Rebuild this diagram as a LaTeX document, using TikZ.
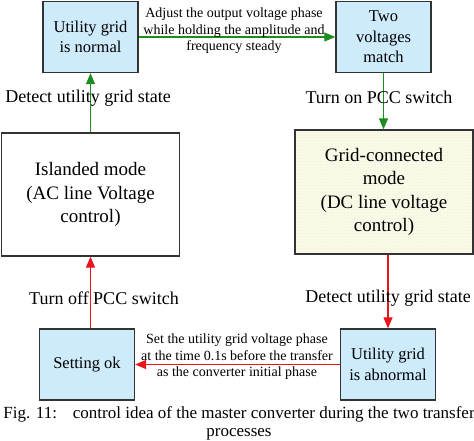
\documentclass[tikz,border=0pt]{standalone}
\usepackage{fontspec}
\setmainfont{Liberation Serif}
\usetikzlibrary{arrows.meta,patterns}
\definecolor{boxblue}{HTML}{CDEBFA}
\definecolor{boxyel}{HTML}{FBFAE6}
\definecolor{arrgreen}{HTML}{1E8C1E}
\definecolor{arrred}{HTML}{E8141E}
\definecolor{edge}{HTML}{333333}
\tikzset{
  smallbox/.style={draw=edge, line width=1.3pt, fill=boxblue, minimum width=95pt, minimum height=71pt, inner sep=0pt, align=center, font=\fontsize{16.5}{20.5}\selectfont},
  bigbox/.style={draw=edge, line width=1.3pt, minimum width=178pt, minimum height=123pt, inner sep=0pt, align=center, font=\fontsize{19}{23.5}\selectfont},
  edgelabel/.style={inner sep=0pt, align=center, font=\fontsize{14}{16.5}\selectfont},
  sidelabel/.style={inner sep=0pt, font=\fontsize{18}{20}\selectfont},
  garrow/.style={draw=arrgreen, line width=1.2pt, -{Triangle[length=11pt,width=9pt]}},
  rarrow/.style={draw=arrred, line width=1.2pt, -{Triangle[length=11pt,width=9pt]}},
}
\begin{document}
\begin{tikzpicture}[x=1pt,y=-1pt]
\useasboundingbox (0,0) rectangle (474,441);
\node[smallbox] (ugn) at (90.5,37) {Utility grid\\is normal};
\node[smallbox] (tvm) at (383.5,37) {Two\\voltages\\match};
\node[bigbox] (isl) at (90.5,194.5) {Islanded mode\\(AC line Voltage\\control)};
\node[bigbox, minimum height=124pt, preaction={fill=boxyel}, pattern=dots, pattern color=gray!22] (grid) at (384,192) {};
\node[align=center, font=\fontsize{19}{23.5}\selectfont, inner sep=0pt] (gridtext) at (grid.center) {Grid-connected\\mode\\(DC line voltage\\control)};
\node[smallbox] (set) at (87,364.5) {Setting ok};
\node[smallbox] (uga) at (388,364.5) {Utility grid\\is abnormal};

\draw[garrow] (ugn.east) -- (tvm.west);
\node[edgelabel] (l1) at (234,31) {Adjust the output voltage phase\\while holding the amplitude and\\frequency steady};
\draw[garrow] (isl.north) -- (isl.north |- ugn.south);
\node[sidelabel] (l2) at (88,98) {Detect utility grid state};
\draw[garrow] (tvm.south) -- (tvm.south |- grid.north);
\node[sidelabel] (l3) at (379,97) {Turn on PCC switch};
\draw[rarrow] (uga.north |- grid.south) -- (uga.north);
\node[sidelabel] (l4) at (388,298) {Detect utility grid state};
\draw[rarrow] (isl.south |- set.north) -- (isl.south);
\node[sidelabel] (l5) at (104,298) {Turn off PCC switch};
\draw[rarrow] (uga.west) -- (set.east);
\node[edgelabel] (l6) at (237,357) {Set the utility grid voltage phase\\at the time 0.1s before the transfer\\as the converter initial phase};
\node[align=center, inner sep=0pt, font=\fontsize{17}{18}\selectfont] (cap) at (239,423) {Fig. 11:\hspace{0.6em} control idea of the master converter during the two transfer\\processes};
\end{tikzpicture}
\end{document}
